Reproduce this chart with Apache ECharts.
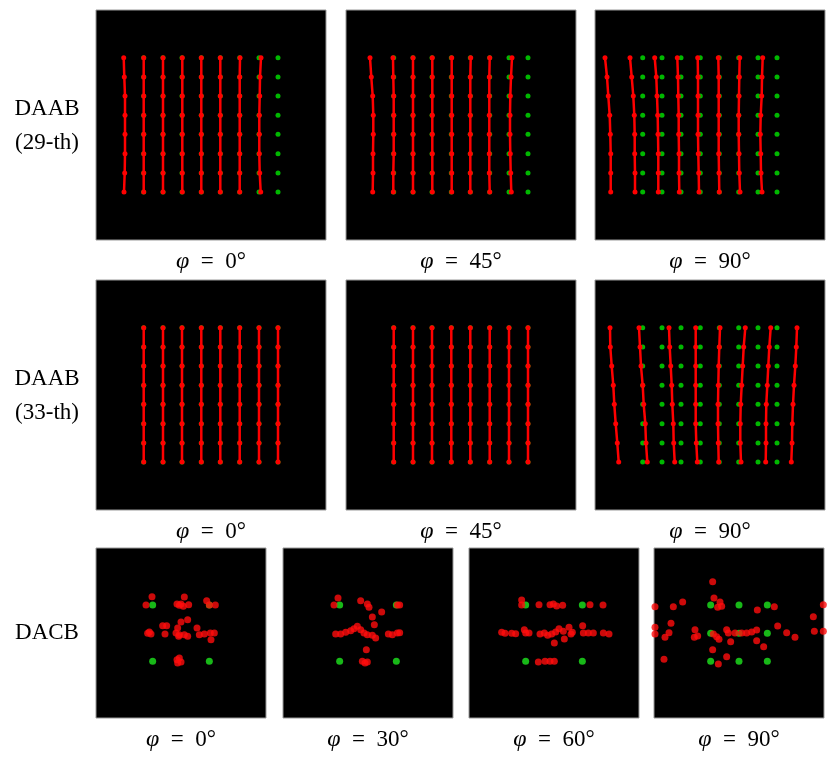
<!DOCTYPE html>
<html>
<head>
<meta charset="utf-8">
<script src="https://cdn.jsdelivr.net/npm/echarts@6/dist/echarts.min.js"></script>
<style>html,body{margin:0;background:#fff}#chart{width:831px;height:758px}</style>
</head>
<body>
<div id="chart"></div>
<script>
// DAAB panels: units are pixels of a 230px panel, y from top
var gridRows = [47.7, 67, 86, 105.3, 124.3, 143.7, 163, 182]
var gridCols = [47.7, 67, 86, 105.3, 124.3, 143.7, 163, 182]

// red lines, x value at each row (top -> bottom)
var daab29_0 = [
  [27.7, 28.3, 29, 29, 29, 29, 28.7, 28],
  [47.7, 47.7, 47.7, 47.7, 47.7, 47.7, 47.7, 47.7],
  [67, 67, 67, 67, 67, 67, 67, 67],
  [86.3, 86.3, 86.3, 86.3, 86.3, 86.3, 86.3, 86.3],
  [105.3, 105.3, 105.3, 105.3, 105.3, 105.3, 105.3, 105.3],
  [124.3, 124.3, 124.3, 124.3, 124.3, 124.3, 124.3, 124.3],
  [144, 143.7, 143.7, 143.7, 143.7, 143.7, 143.7, 143.7],
  [165, 164, 163.7, 163.3, 163.3, 163.3, 163.7, 164.7]
]
var daab29_45 = [
  [24, 25.3, 26.7, 27.3, 27.3, 27, 27, 26.7],
  [47, 47.3, 47.7, 47.7, 47.7, 47.7, 47.3, 47.3],
  [67, 67, 67, 67, 67, 67, 67, 67],
  [86.3, 86.3, 86.3, 86.3, 86.3, 86.3, 86.3, 86.3],
  [105.7, 105.7, 105.7, 105.7, 105.7, 105.7, 105.7, 105.7],
  [124.7, 124.3, 124.3, 124.3, 124.3, 124.3, 124.3, 124.3],
  [143.7, 143.3, 143.3, 143.3, 143.3, 143.3, 143.3, 143.7],
  [166, 165, 164.3, 164, 164, 164.3, 164.7, 165.3]
]
var daab29_90 = [
  [10, 12, 13.3, 14.7, 15.3, 15.7, 15.7, 15.7],
  [35, 36.7, 38.3, 39.3, 39.7, 39.7, 40, 40],
  [59.7, 61.3, 62, 62.7, 63, 63.3, 63.3, 63.3],
  [82.3, 83, 83.3, 83.7, 83.7, 84, 84, 84.3],
  [102.7, 103, 103, 103, 103, 103.3, 103.7, 104],
  [123.3, 123.7, 123.7, 123.7, 123.7, 123.7, 124, 124.3],
  [144.7, 144.3, 144, 143.7, 143.7, 144, 144.3, 145],
  [167.7, 167, 166.7, 165.7, 165.3, 165.7, 166, 167]
]
var daab33_0 = gridCols.map(function (c) { return [c, c, c, c, c, c, c, c] })
var daab33_45 = gridCols.map(function (c) { return [c, c, c, c, c, c, c, c] })
var daab33_90 = [
  [15, 15.3, 16.7, 18.3, 19.3, 20.7, 22.3, 23.7],
  [44, 45, 46, 47.7, 48.7, 50.3, 51, 52.3],
  [74, 74.7, 75.7, 76.7, 77.3, 78.3, 78.7, 79.7],
  [100.7, 100.7, 100.7, 100.7, 100.7, 100.7, 101.3, 102.3],
  [125, 124.3, 123.7, 123.3, 123, 123, 123.3, 123.7],
  [150.3, 148.7, 147.7, 146.7, 145.7, 145.3, 145.3, 146],
  [175.7, 174.3, 173.3, 172.3, 171.3, 171, 171, 170.7],
  [202, 201.3, 200.3, 199, 198, 197.3, 197, 196.3]
]

// DACB panels: units are a 510 x 510 panel, y from top
var dacbGreen4 = [[170, 171], [340, 171], [170, 340], [340, 340]]
var dacbGreen9 = [[170, 171], [255, 171], [340, 171], [170, 256], [255, 256], [340, 256], [170, 340], [255, 340], [340, 340]]
var dacb0 = [[168,146],[150,171],[265,147],[243,168],[255,168],[262,175],[278,170],[250,172],[332,158],[340,171],[358,171],[200,233],[212,233],[275,215],[255,222],[155,256],[165,258],[160,252],[207,258],[245,240],[240,255],[250,260],[265,260],[275,265],[248,265],[303,240],[310,260],[325,258],[343,255],[355,255],[345,275],[243,335],[250,330],[255,342],[245,345]]
var dacb30 = [[165,150],[153,171],[233,158],[253,168],[258,178],[343,171],[350,171],[296,192],[268,207],[274,230],[223,235],[158,258],[173,258],[188,253],[203,248],[213,242],[233,245],[243,255],[253,260],[268,262],[278,270],[316,258],[328,260],[343,255],[350,254],[250,305],[238,340],[253,342],[246,345]]
var dacb60 = [[158,156],[158,171],[210,170],[243,170],[253,168],[263,174],[281,172],[363,170],[402,171],[98,253],[108,256],[128,256],[140,257],[166,245],[170,255],[180,255],[213,258],[226,255],[236,262],[248,258],[260,252],[270,242],[283,250],[300,238],[306,258],[310,253],[341,233],[343,255],[358,255],[373,255],[403,255],[420,258],[256,285],[286,273],[208,342],[228,340],[243,340],[256,340]]
var dacb90 = [[176,101],[180,150],[198,162],[191,178],[203,175],[3,176],[58,176],[86,162],[361,176],[310,186],[478,206],[508,170],[51,226],[3,238],[3,258],[45,254],[33,268],[123,245],[121,268],[131,264],[178,258],[188,266],[195,274],[218,245],[223,255],[243,255],[230,281],[263,255],[278,255],[293,252],[308,246],[308,278],[329,296],[371,234],[398,254],[423,268],[481,250],[508,250],[176,305],[218,326],[193,348],[30,334]]

var panels = [
  { box: [96, 10, 230], lines: daab29_0, label: '0°' },
  { box: [346, 10, 230], lines: daab29_45, label: '45°' },
  { box: [595, 10, 230], lines: daab29_90, label: '90°' },
  { box: [96, 280, 230], lines: daab33_0, label: '0°' },
  { box: [346, 280, 230], lines: daab33_45, label: '45°' },
  { box: [595, 280, 230], lines: daab33_90, label: '90°' },
  { box: [96, 548, 170], green: dacbGreen4, red: dacb0, label: '0°' },
  { box: [283, 548, 170], green: dacbGreen4, red: dacb30, label: '30°' },
  { box: [469, 548, 170], green: dacbGreen4, red: dacb60, label: '60°' },
  { box: [654, 548, 170], green: dacbGreen9, red: dacb90, label: '90°' }
]

var grid = [], xAxis = [], yAxis = [], series = [], graphic = []
panels.forEach(function (p, i) {
  var size = p.box[2]
  var maxV = p.lines ? 230 : 510
  grid.push({ left: p.box[0], top: p.box[1], width: size, height: size,
    show: true, backgroundColor: '#000', borderColor: '#999', borderWidth: 1 })
  xAxis.push({ gridIndex: i, type: 'value', min: 0, max: maxV, show: false })
  yAxis.push({ gridIndex: i, type: 'value', min: 0, max: maxV, inverse: true, show: false })
  if (p.lines) {
    var g = []
    gridCols.forEach(function (c) { gridRows.forEach(function (r) { g.push([c, r]) }) })
    series.push({ type: 'scatter', xAxisIndex: i, yAxisIndex: i, data: g,
      symbolSize: 5, itemStyle: { color: '#00e600' }, silent: true })
    p.lines.forEach(function (xs) {
      series.push({ type: 'line', xAxisIndex: i, yAxisIndex: i,
        data: xs.map(function (x, j) { return [x, gridRows[j]] }),
        symbol: 'circle', symbolSize: 5, lineStyle: { color: '#ff0000', width: 2.5 },
        itemStyle: { color: '#ff0000' }, silent: true })
    })
  } else {
    series.push({ type: 'scatter', xAxisIndex: i, yAxisIndex: i, data: p.green,
      symbolSize: 7, itemStyle: { color: '#1ee61e' }, silent: true })
    series.push({ type: 'scatter', xAxisIndex: i, yAxisIndex: i, data: p.red,
      symbolSize: 7, itemStyle: { color: '#ff0d0d' }, silent: true })
  }
  // caption under each panel
  graphic.push({ type: 'text', x: p.box[0] + size / 2, y: p.box[1] + size + 22,
    style: { text: '{i|φ}  =  ' + p.label, textAlign: 'center', textVerticalAlign: 'middle',
      font: '23px "Liberation Serif"', fill: '#000',
      rich: { i: { font: 'italic 24px "Liberation Serif"', fill: '#000' } } } })
})

var leftLabels = [['DAAB\n(29-th)', 126], ['DAAB\n(33-th)', 396], ['DACB', 633]]
leftLabels.forEach(function (l) {
  graphic.push({ type: 'text', x: 47, y: l[1],
    style: { text: l[0], font: '23px "Liberation Serif"', fill: '#000', lineHeight: 34,
      textAlign: 'center', textVerticalAlign: 'middle' } })
})

var myChart = echarts.init(document.getElementById('chart'))
myChart.setOption({ animation: false, grid: grid, xAxis: xAxis, yAxis: yAxis, series: series, graphic: graphic })
</script>
</body>
</html>
